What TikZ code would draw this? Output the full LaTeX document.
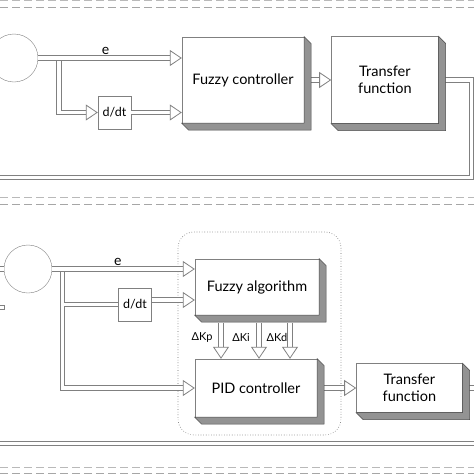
\documentclass[tikz,border=0pt]{standalone}
\usepackage{fontspec}
\setmainfont{Lato}
\usetikzlibrary{arrows.meta,positioning,calc}

\begin{document}
\begin{tikzpicture}[
  x=1pt, y=-1pt,
  blk/.style={draw=gray, fill=white, align=center, inner sep=0pt,
              font=\fontsize{14.5}{17}\selectfont},
  ddt/.style={draw=gray, fill=white, minimum size=33pt, inner sep=0pt,
              font=\fontsize{12.5}{14}\selectfont},
  sum/.style={circle, draw=gray, fill=white, minimum size=48pt, inner sep=0pt},
  hol/.style={draw=gray, line width=0.8pt, double=white, double distance=3.8pt},
  harr/.style={hol, -{Triangle[length=12pt, width=16pt, line width=0.8pt, fill=white]}},
  side/.style={fill=gray!85, draw=gray!60!black, line width=0.5pt},
  sep/.style={dash pattern=on 8pt off 4pt, line width=1pt},
  grp/.style={draw=gray!80!black, line width=0.6pt, dotted, rounded corners=16pt},
  lbl/.style={font=\fontsize{14}{16}\selectfont},
  klbl/.style={inner sep=0pt, font=\fontsize{11}{13}\selectfont}
]
\useasboundingbox (0,0) rectangle (474,474);

% separators
\foreach \y/\c in {0.5/55, 7/70, 197/55, 204/70, 467/55, 473/70}
  \draw[sep, gray!\c] (0,\y) -- (474,\y);

% top: fuzzy controller loop
\node[sum] (c1) at (14,58) {};
\node[blk, minimum width=122pt, minimum height=86pt] (fc) at (243,80) {Fuzzy controller};
\node[blk, minimum width=107pt, minimum height=87pt, right=27pt of fc] (tf1) {Transfer\\function};
\node[ddt] (dd1) at (114.5,112.5) {d/dt};

\coordinate (b1) at (59,59);
\coordinate (fb1) at (471.5,177.5);
\coordinate (fb1end) at (-2,177.5);

\draw[harr] (b1) |- (dd1.west);
\draw[harr] (c1.east) -- (c1.east -| fc.west) node[lbl, above, pos=0.47] (e1) {e};
\draw[harr] (dd1.east) -- (dd1.east -| fc.west);
\draw[harr] (fc.east) -- (tf1.west);
\draw[hol] (tf1.east) -| (fb1) -- (fb1end);

% bottom: fuzzy PID loop
\draw[grp] (178,232) rectangle (341,435);
\node[sum] (c2) at (28,269) {};
\node[blk, minimum width=124pt, minimum height=56pt] (fa) at (257,287) {Fuzzy algorithm};
\node[blk, minimum width=122pt, minimum height=58pt] (pid) at (256,388) {PID controller};
\node[blk, minimum width=106pt, minimum height=49pt, right=39pt of pid] (tf2) {Transfer\\function};
\node[ddt] (dd2) at (135,304.5) {d/dt};

\coordinate (in2) at (-4,269);
\coordinate (b2) at (62.5,270);
\coordinate (d2o) at ([yshift=4.5pt]dd2.east);
\coordinate (kp) at (221,323);
\coordinate (ki) at (259,323);
\coordinate (kd) at (290,323);
\coordinate (fb2) at (478,443.5);
\coordinate (fb2end) at (-2,443.5);

\draw[hol] (in2) -- (c2.west);
\draw[gray, line width=0.6pt] (-2,305) rectangle (4,309.5);
\draw[harr] (b2 |- dd2.west) -- (dd2.west) (b2) |- (pid.west);
\draw[harr] (c2.east) -- (c2.east -| fa.west) node[lbl, above, pos=0.46] (e2) {e};
\draw[harr] (d2o) -- (d2o -| fa.west);
\draw[harr] (kp) -- (kp |- pid.north);
\draw[harr] (ki) -- (ki |- pid.north);
\draw[harr] (kd) -- (kd |- pid.north);
\node[klbl] (lkp) at (202,337) {ΔKp};
\node[klbl] (lki) at (241,337) {ΔKi};
\node[klbl] (lkd) at (277,337) {ΔKd};
\draw[harr] (pid.east) -- (tf2.west);
\draw[hol] (tf2.east) -| (fb2) -- (fb2end);

% 3d sides of the blocks
\foreach \n in {fc,tf1,fa,pid,tf2}
  \filldraw[side] (\n.north east) -- ++(7,7) |- ($(\n.south west)+(7,7)$)
    -- (\n.south west) -- (\n.south east) -- cycle;
\end{tikzpicture}
\end{document}
